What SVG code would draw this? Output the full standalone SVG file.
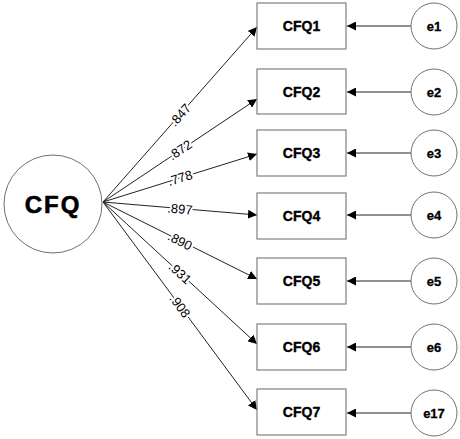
<svg xmlns="http://www.w3.org/2000/svg" width="460" height="439" viewBox="0 0 460 439">
<style>
.box{fill:#fff;stroke:#808080;stroke-width:1.2}
.circ{fill:#fff;stroke:#707070;stroke-width:1}
.lbl{font-family:"Liberation Sans",Arial,sans-serif;font-weight:bold;font-size:14px;text-anchor:middle;dominant-baseline:central;fill:#000;stroke:#000;stroke-width:0.35}
.el{font-family:"Liberation Sans",Arial,sans-serif;font-weight:bold;font-size:13px;text-anchor:middle;dominant-baseline:central;fill:#000;stroke:#000;stroke-width:0.3}
.ld{font-family:"Liberation Sans",Arial,sans-serif;font-size:13px;text-anchor:middle;dominant-baseline:central;fill:#000;stroke:#fff;stroke-width:4;paint-order:stroke;stroke-linejoin:round}
.con{stroke:#222;stroke-width:1;fill:none;marker-end:url(#ah)}
</style>
<defs>
<marker id="ah" viewBox="0 0 10 10" refX="10" refY="5" markerWidth="9" markerHeight="9" markerUnits="userSpaceOnUse" orient="auto">
<path d="M0,0 L10,5 L0,10 z" fill="#000"/>
</marker>
</defs>
<rect width="460" height="439" fill="#fff"/>
<g id="connectors">
<line class="con" x1="103" y1="202" x2="257" y2="27"/>
<line class="con" x1="103" y1="202" x2="257" y2="99"/>
<line class="con" x1="103" y1="202" x2="257" y2="154"/>
<line class="con" x1="103" y1="202" x2="257" y2="215"/>
<line class="con" x1="103" y1="202" x2="257" y2="279"/>
<line class="con" x1="103" y1="202" x2="257" y2="344"/>
<line class="con" x1="103" y1="202" x2="257" y2="410"/>
<line class="con" x1="411" y1="26" x2="347" y2="26"/>
<line class="con" x1="411" y1="92" x2="347" y2="92"/>
<line class="con" x1="411" y1="153" x2="347" y2="153"/>
<line class="con" x1="411" y1="215" x2="347" y2="215"/>
<line class="con" x1="411" y1="281" x2="347" y2="281"/>
<line class="con" x1="411" y1="347" x2="347" y2="347"/>
<line class="con" x1="411" y1="413" x2="347" y2="413"/>
<text class="ld" transform="translate(180,115) rotate(-48.7)">.847</text>
<text class="ld" transform="translate(180,150) rotate(-33.8)">.872</text>
<text class="ld" transform="translate(180,178) rotate(-17.3)">.778</text>
<text class="ld" transform="translate(180,209) rotate(4.8)">.897</text>
<text class="ld" transform="translate(180,241) rotate(26.6)">.890</text>
<text class="ld" transform="translate(180,273) rotate(42.7)">.931</text>
<text class="ld" transform="translate(180,306) rotate(53.5)">.908</text>
</g>
<g id="CFQ">
<circle class="circ" cx="53" cy="204" r="49"/>
<text class="lbl" x="53" y="204" style="font-size:24px;letter-spacing:2px;stroke-width:0.6">CFQ</text>
</g>
<g id="CFQ1"><rect class="box" x="257" y="3" width="89" height="46"/><text class="lbl" x="301.5" y="26">CFQ1</text></g>
<g id="CFQ2"><rect class="box" x="257" y="69" width="89" height="45"/><text class="lbl" x="301.5" y="91.5">CFQ2</text></g>
<g id="CFQ3"><rect class="box" x="257" y="130" width="89" height="46"/><text class="lbl" x="301.5" y="153">CFQ3</text></g>
<g id="CFQ4"><rect class="box" x="257" y="193" width="89" height="46"/><text class="lbl" x="301.5" y="216">CFQ4</text></g>
<g id="CFQ5"><rect class="box" x="257" y="258" width="89" height="46"/><text class="lbl" x="301.5" y="281">CFQ5</text></g>
<g id="CFQ6"><rect class="box" x="257" y="324" width="89" height="46"/><text class="lbl" x="301.5" y="347">CFQ6</text></g>
<g id="CFQ7"><rect class="box" x="257" y="389" width="89" height="46"/><text class="lbl" x="301.5" y="412">CFQ7</text></g>
<g id="e1"><circle class="circ" cx="434" cy="26" r="23"/><text class="el" x="434" y="26">e1</text></g>
<g id="e2"><circle class="circ" cx="434" cy="92" r="23"/><text class="el" x="434" y="92">e2</text></g>
<g id="e3"><circle class="circ" cx="434" cy="153" r="23"/><text class="el" x="434" y="153">e3</text></g>
<g id="e4"><circle class="circ" cx="434" cy="215" r="23"/><text class="el" x="434" y="215">e4</text></g>
<g id="e5"><circle class="circ" cx="434" cy="281" r="23"/><text class="el" x="434" y="281">e5</text></g>
<g id="e6"><circle class="circ" cx="434" cy="347" r="23"/><text class="el" x="434" y="347">e6</text></g>
<g id="e17"><circle class="circ" cx="434" cy="413" r="23"/><text class="el" x="434" y="413">e17</text></g>
</svg>
